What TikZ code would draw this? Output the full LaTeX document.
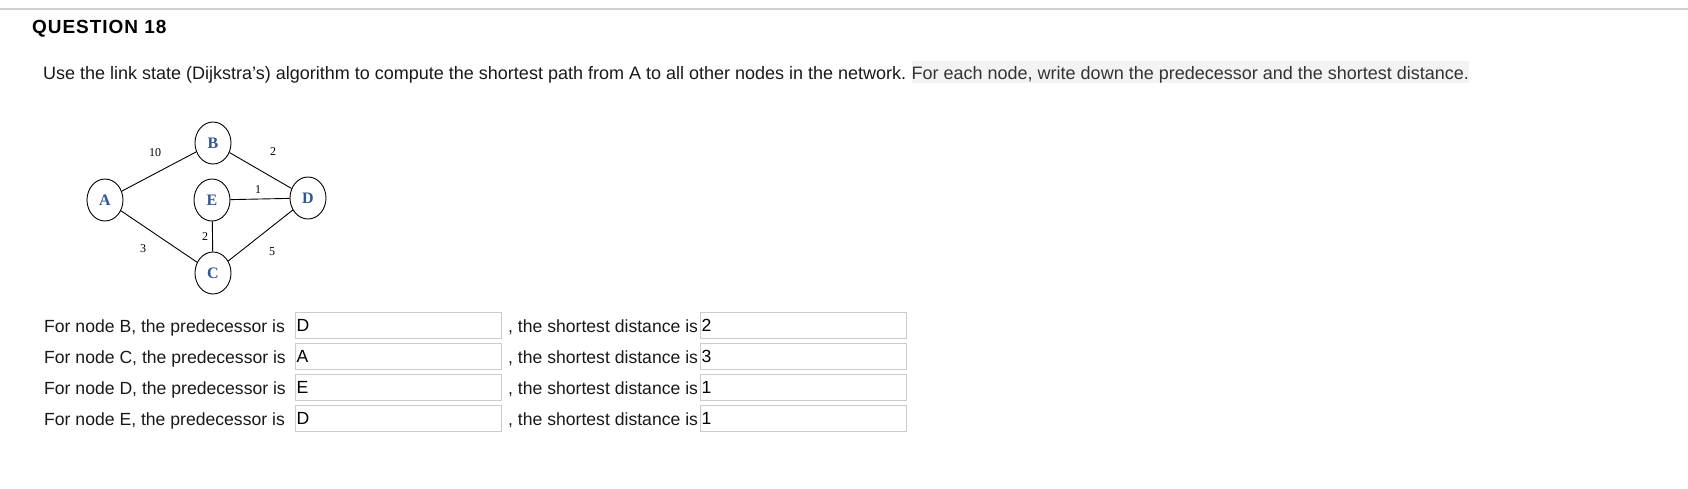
\documentclass[tikz,border=0pt]{standalone}
\usepackage{fontspec}
\setmainfont{Liberation Sans}
\newfontfamily\graphfont{Liberation Serif}
\usetikzlibrary{shapes.geometric}
\definecolor{nodeblue}{RGB}{50,86,146}
\definecolor{boxgray}{RGB}{204,204,204}
\definecolor{rulegray}{RGB}{208,208,208}
\definecolor{hilite}{RGB}{243,243,243}
\pgfdeclarelayer{background layer}
\pgfsetlayers{background layer,main}
\tikzstyle{vertex}=[ellipse,draw=black,line width=0.9pt,fill=white,inner sep=0pt,minimum width=36pt,minimum height=42pt,text=nodeblue,font=\graphfont\bfseries\fontsize{16}{16}\selectfont]
\tikzstyle{weight}=[inner sep=0pt,font=\graphfont\fontsize{12}{12}\selectfont]
\tikzstyle{line}=[anchor=base west,inner sep=0pt,text=black!90,font=\fontsize{17.6}{17.6}\selectfont]
\tikzstyle{answer}=[draw=boxgray,line width=1pt,anchor=north west,minimum width=206pt,minimum height=26pt,inner xsep=1pt,text width=204pt,align=left,execute at begin node=\noindent,font=\fontsize{17.6}{17.6}\selectfont]

\begin{document}
\begin{tikzpicture}[x=1pt,y=-1pt]
			\useasboundingbox (0,0) rectangle (1688,488);
			\draw [rulegray,line width=2pt] (0,9) -- (1688,9);
			
			\node (title) at (32,33) [anchor=base west,inner sep=0pt,font=\bfseries\fontsize{19}{19}\selectfont\addfontfeatures{LetterSpace=5}] {QUESTION 18};
			\node (task) at (43,79) [anchor=base west,inner sep=0pt,text=black!90,font=\fontsize{18}{18}\selectfont] {Use the link state (Dijkstra's) algorithm to compute the shortest path from A to all other nodes in the network.};
			\node (hint) at (task.base east) [anchor=base west,xshift=5pt,inner xsep=0pt,inner ysep=0pt,text height=18pt,text depth=4pt,fill=hilite,text=black!80,font=\fontsize{18}{18}\selectfont] {For each node, write down the predecessor and the shortest distance.};
			
			\node (A) at (105,200) [vertex] {A};
			\node (B) at (213,143) [vertex] {B};
			\node (E) at (212,200) [vertex] {E};
			\node (D) at (308,198) [vertex] {D};
			\node (C) at (213,273) [vertex] {C};
			
			\draw [line width=0.9pt] (A) -- (B);
			\draw [line width=0.9pt] (B) -- (D);
			\draw [line width=0.9pt] (E) -- (D);
			\draw [line width=0.9pt] (E) -- (C);
			\draw [line width=0.9pt] (A) -- (C);
			\draw [line width=0.9pt] (C) -- (D);
			
			\node (wAB) at (155,153) [weight] {10};
			\node (wBD) at (273,152) [weight] {2};
			\node (wED) at (258,190) [weight] {1};
			\node (wEC) at (205,237) [weight] {2};
			\node (wAC) at (143,249) [weight] {3};
			\node (wCD) at (272,252) [weight] {5};
			
			\node (qB) at (44,332) [line] {For node B, the predecessor is};
			\node (pB) at (295,312) [answer] {D};
			\node (sB) at (508,332) [line] {, the shortest distance is};
			\node (dB) at (700,312) [answer] {2};
			
			\node (qC) at (44,363) [line] {For node C, the predecessor is};
			\node (pC) at (295,343) [answer] {A};
			\node (sC) at (508,363) [line] {, the shortest distance is};
			\node (dC) at (700,343) [answer] {3};
			
			\node (qD) at (44,394) [line] {For node D, the predecessor is};
			\node (pD) at (295,374) [answer] {E};
			\node (sD) at (508,394) [line] {, the shortest distance is};
			\node (dD) at (700,374) [answer] {1};
			
			\node (qE) at (44,425) [line] {For node E, the predecessor is};
			\node (pE) at (295,405) [answer] {D};
			\node (sE) at (508,425) [line] {, the shortest distance is};
			\node (dE) at (700,405) [answer] {1};
		\end{tikzpicture}
\end{document}
